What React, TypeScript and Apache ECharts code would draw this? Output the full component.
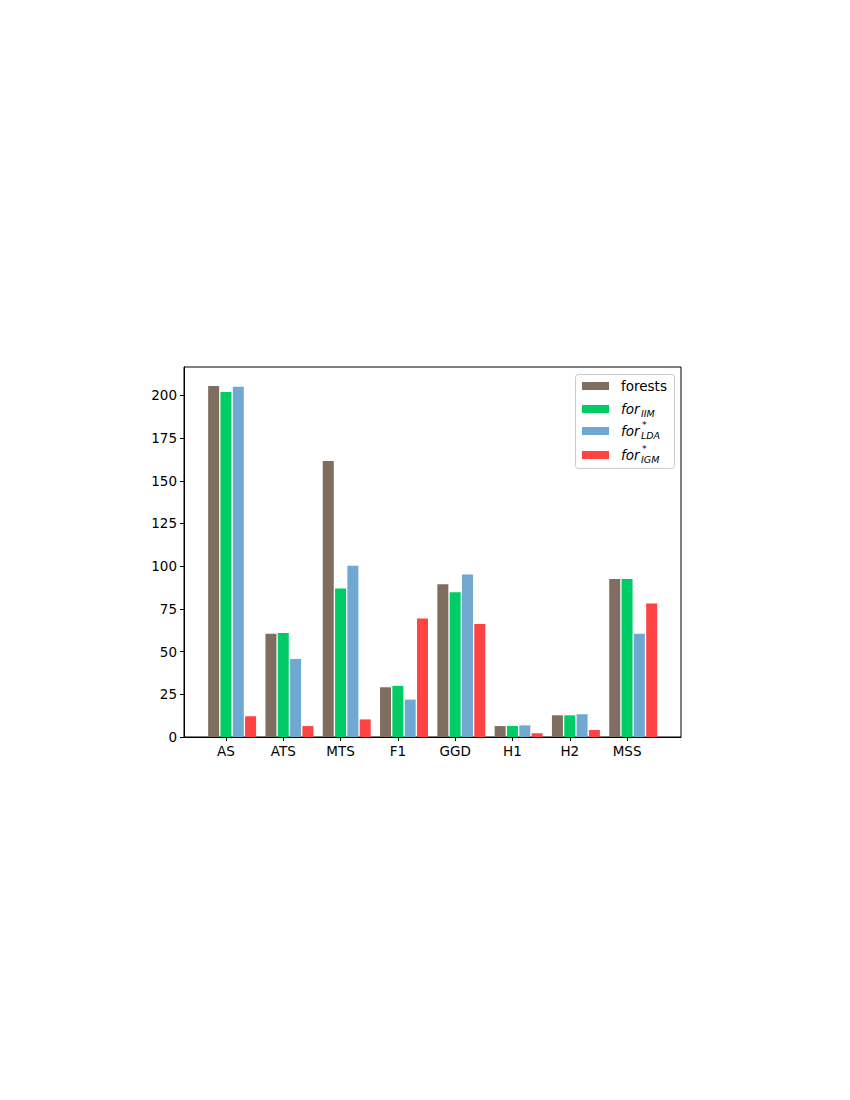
import React, { useEffect, useRef } from 'react';
import * as echarts from 'echarts';

const categories = ['AS', 'ATS', 'MTS', 'F1', 'GGD', 'H1', 'H2', 'MSS'];
const forests = [205.5, 60.5, 161.6, 29.1, 89.4, 6.4, 12.7, 92.5];
const forIIM = [202.0, 60.9, 86.9, 29.9, 84.7, 6.4, 12.7, 92.5];
const forLDA = [205.1, 45.7, 100.3, 21.9, 95.1, 6.8, 13.3, 60.5];
const forIGM = [12.1, 6.4, 10.3, 69.3, 66.2, 2.2, 4.1, 78.1];
const yTicks = [0, 25, 50, 75, 100, 125, 150, 175, 200];
const seriesNames = ['forests', 'forIIM', 'forLDA', 'forIGM'];
const seriesColors = ['#7f6d5f', '#00cc66', '#6fa8d0', '#ff4242'];

const FONT = 'DejaVu Sans';
const FS = 13.5;
const X_MIN = -0.733;
const X_MAX = 7.941;
const Y_MAX = 216.6;
const GROUP_SHIFT = 0.107; // tick sits at the centre of the 2nd bar

export default function App() {
  const ref = useRef<HTMLDivElement>(null);
  useEffect(() => {
    if (!ref.current) return;
    const chart = echarts.init(ref.current, null, { renderer: 'svg' });
    const allSeries = [forests, forIIM, forLDA, forIGM];
    const idx = categories.map((_, i) => i);

    const legendRows = [
      { y: 386, main: 'forests', italic: false, sup: '', sub: '' },
      { y: 409, main: 'for', italic: true, sup: '', sub: 'IIM' },
      { y: 431, main: 'for', italic: true, sup: '*', sub: 'LDA' },
      { y: 455, main: 'for', italic: true, sup: '*', sub: 'IGM' },
    ];
    const legendChildren: any[] = [
      {
        type: 'rect',
        shape: { x: 575.5, y: 374.5, width: 99, height: 94, r: 3 },
        style: { fill: 'rgba(255,255,255,0.8)', stroke: '#cccccc', lineWidth: 1 },
      },
    ];
    legendRows.forEach((row, k) => {
      legendChildren.push({
        type: 'rect',
        shape: { x: 582, y: row.y - 4, width: 27, height: 8 },
        style: { fill: seriesColors[k] },
      });
      legendChildren.push({
        type: 'text',
        style: {
          text: row.main,
          x: 621,
          y: row.y,
          verticalAlign: 'middle',
          align: 'left',
          fill: '#000',
          font: `${row.italic ? 'italic ' : ''}${FS}px "${FONT}"`,
        },
      });
      if (row.sup) {
        legendChildren.push({
          type: 'text',
          style: {
            text: row.sup,
            x: 642,
            y: row.y - 7,
            verticalAlign: 'middle',
            align: 'left',
            fill: '#000',
            font: `italic 9.5px "${FONT}"`,
          },
        });
      }
      if (row.sub) {
        legendChildren.push({
          type: 'text',
          style: {
            text: row.sub,
            x: 641,
            y: row.y + 4,
            verticalAlign: 'middle',
            align: 'left',
            fill: '#000',
            font: `italic 9.5px "${FONT}"`,
          },
        });
      }
    });

    chart.setOption({
      animation: false,
      backgroundColor: '#fff',
      grid: {
        left: 184,
        top: 367,
        width: 497,
        height: 370,
        show: true,
        borderColor: '#000',
        borderWidth: 1,
        backgroundColor: 'transparent',
      },
      xAxis: {
        type: 'value',
        min: X_MIN,
        max: X_MAX,
        axisLine: { show: true, onZero: false, lineStyle: { color: '#000', width: 1 } },
        axisTick: {
          show: true,
          customValues: idx,
          length: 4,
          inside: false,
          lineStyle: { color: '#000', width: 1 },
        },
        axisLabel: {
          customValues: idx,
          formatter: (v: number) => categories[Math.round(v)] ?? '',
          color: '#000',
          fontSize: FS,
          fontFamily: FONT,
          margin: 7,
        },
        splitLine: { show: false },
      },
      yAxis: {
        type: 'value',
        min: 0,
        max: Y_MAX,
        axisLine: { show: true, onZero: false, lineStyle: { color: '#000', width: 1 } },
        axisTick: {
          show: true,
          customValues: yTicks,
          length: 4,
          inside: false,
          lineStyle: { color: '#000', width: 1 },
        },
        axisLabel: {
          customValues: yTicks,
          color: '#000',
          fontSize: FS,
          fontFamily: FONT,
          margin: 7,
        },
        splitLine: { show: false },
      },
      series: allSeries.map((vals, k) => ({
        name: seriesNames[k],
        type: 'bar',
        barWidth: 11,
        barGap: '12%',
        itemStyle: { color: seriesColors[k] },
        data: vals.map((v, i) => [i + GROUP_SHIFT, v]),
      })),
      graphic: [{ type: 'group', children: legendChildren }],
    });
    return () => chart.dispose();
  }, []);

  return (
    <div
      ref={ref}
      style={{ position: 'absolute', left: 0, top: 0, width: 850, height: 1100, background: '#fff' }}
    />
  );
}
